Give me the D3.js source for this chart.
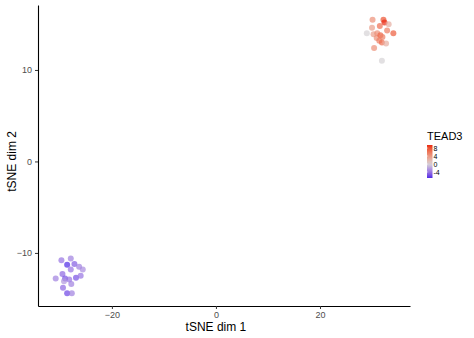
<!DOCTYPE html>
<html>
<head>
<meta charset="utf-8">
<script src="https://cdn.jsdelivr.net/npm/d3@7"></script>
<style>
  body { margin: 0; background: #fff; }
  svg { font-family: "Liberation Sans", Arial, sans-serif; }
</style>
</head>
<body>
<svg id="chart" width="474" height="338"></svg>
<script>
// tSNE coordinates and TEAD3 expression
var dim1 = [30.1, 32.2, 32.4, 31.5, 29.0, 30.3, 31.0, 32.9, 34.1, 30.9, 31.4, 31.9, 32.7, 30.4, 31.9, 31.6, 30.0, 33.2, 32.0,
            -29.7, -27.9, -28.6, -27.2, -26.3, -25.6, -27.9, -29.5, -30.8, -29.0, -28.2, -26.9, -26.0, -27.8, -29.4, -28.6, -27.7, -29.2]
var dim2 = [15.5, 15.5, 15.2, 14.8, 14.0, 13.9, 14.0, 14.3, 14.0, 13.5, 13.2, 13.0, 12.9, 12.4, 11.0, 13.8, 14.6, 15.0, 13.6,
            -10.8, -10.6, -11.3, -11.2, -11.5, -11.8, -11.8, -12.3, -12.8, -12.8, -12.9, -12.7, -12.5, -13.4, -13.8, -14.4, -14.4, -13.1]
var tead3 = [4.5, 8, 9.5, 6.5, 0, 3.5, 4.5, 5.5, 7.5, 4.5, 5.5, 6.5, 2.5, 4.5, 0, 7, 3.5, 2.5, 5.5,
             -4, -3.5, -7, -5, -3.5, -3, -4, -4.5, -3.5, -5.5, -4, -5.5, -4, -3.5, -4.5, -6, -3.5, -2.5]
var xTicks = [-20, 0, 20]
var yTicks = [-10, 0, 10]
var legendTicks = [8, 4, 0, -4]

var margin = { top: 5, left: 38, bottom: 32, right: 64 }
var svgWidth = 474, svgHeight = 338
var width = svgWidth - margin.left - margin.right
var height = svgHeight - margin.top - margin.bottom

const svg = d3.select("#chart")
const g = svg.append("g").attr("transform", `translate(${margin.left},${margin.top})`)

const X_scale = d3.scaleLinear().domain([-34.2, 37.3]).range([0, width])
const Y_scale = d3.scaleLinear().domain([-15.8, 17.1]).range([height, 0])

const vMin = d3.min(tead3), vMax = d3.max(tead3)
const colour = d3.scaleLinear()
    .domain([vMin, 0, vMax])
    .range(["#4f2be6", "#d6d3d6", "#ea2a12"])
    .interpolate(d3.interpolateLab)

const points = d3.range(dim1.length).map(i => ({ x: dim1[i], y: dim2[i], v: tead3[i] }))

g.selectAll("circle")
    .data(points)
    .join("circle")
    .attr("cx", d => X_scale(d.x))
    .attr("cy", d => Y_scale(d.y))
    .attr("r", 3)
    .attr("fill", d => colour(d.v))
    .attr("fill-opacity", 0.7)

const xAxis = g.append("g")
    .attr("transform", `translate(0, ${height})`)
    .call(d3.axisBottom(X_scale).tickValues(xTicks).tickSize(3).tickSizeOuter(0).tickPadding(3))
const yAxis = g.append("g")
    .call(d3.axisLeft(Y_scale).tickValues(yTicks).tickSize(3).tickSizeOuter(0).tickPadding(3))

;[xAxis, yAxis].forEach(a => {
    a.select(".domain").attr("stroke", "#000").attr("stroke-width", 1.1)
    a.selectAll(".tick line").attr("stroke", "#333")
    a.selectAll(".tick text").attr("fill", "#4d4d4d").style("font-size", "9px")
        .style("font-family", "Liberation Sans, Arial, sans-serif")
})

svg.append("text")
    .attr("x", margin.left + X_scale(0)).attr("y", 331)
    .attr("text-anchor", "middle").style("font-size", "12px")
    .text("tSNE dim 1")
svg.append("text")
    .attr("transform", `translate(16, ${margin.top + Y_scale(0)}) rotate(-90)`)
    .attr("text-anchor", "middle").style("font-size", "12px")
    .text("tSNE dim 2")

// legend
const lg = svg.append("g").attr("transform", "translate(427, 145)")
lg.append("text").attr("x", 0).attr("y", -5).style("font-size", "11px").text("TEAD3")

const L_scale = d3.scaleLinear().domain([vMin, vMax]).range([33, 0])
const defs = svg.append("defs")
const grad = defs.append("linearGradient").attr("id", "tead3Grad")
    .attr("x1", 0).attr("y1", 1).attr("x2", 0).attr("y2", 0)
d3.range(0, 1.0001, 0.1).forEach(t => {
    const v = vMin + t * (vMax - vMin)
    grad.append("stop").attr("offset", t).attr("stop-color", colour(v))
})
lg.append("rect").attr("width", 5.5).attr("height", 33).attr("fill", "url(#tead3Grad)")
lg.selectAll(".lt")
    .data(legendTicks)
    .join("text")
    .attr("class", "lt")
    .attr("x", 6.5).attr("y", d => L_scale(d) + 2.5)
    .style("font-size", "7px").attr("fill", "#000")
    .text(d => d)
lg.selectAll(".ll")
    .data(legendTicks)
    .join("line")
    .attr("x1", 0).attr("x2", 1.2).attr("y1", d => L_scale(d)).attr("y2", d => L_scale(d))
    .attr("stroke", "#fff").attr("stroke-width", 0.5)
</script>
</body>
</html>
